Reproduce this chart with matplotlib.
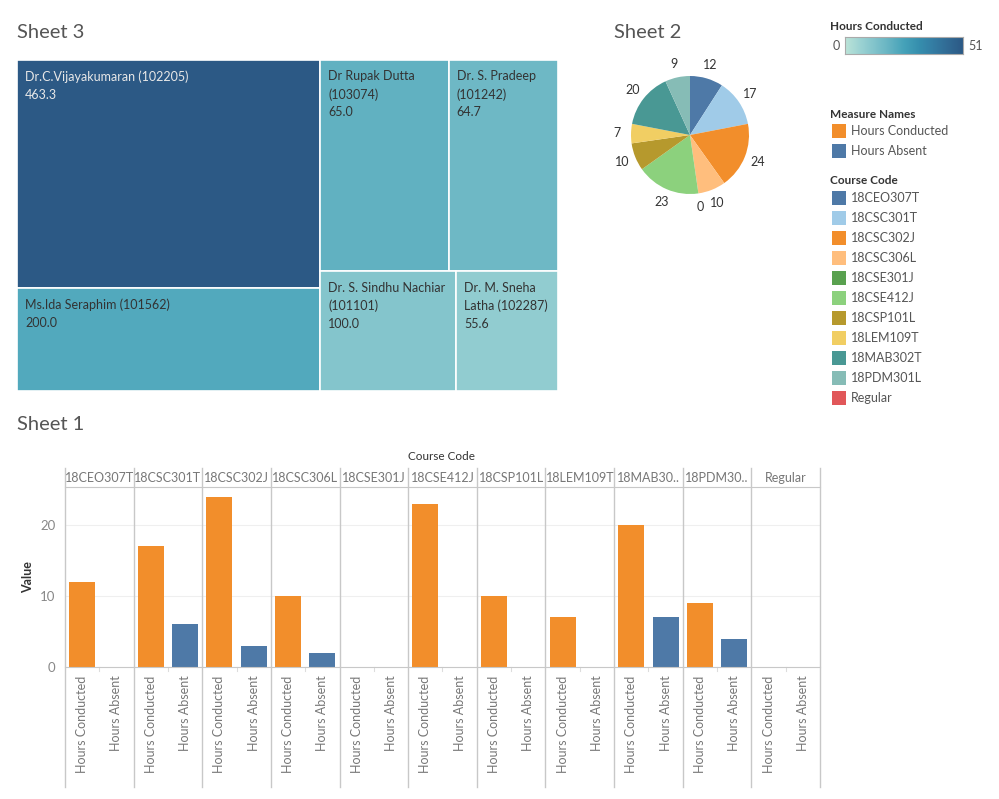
import textwrap
import numpy as np
import matplotlib
matplotlib.use("Agg")
import matplotlib.pyplot as plt
from matplotlib.colors import LinearSegmentedColormap, Normalize, to_rgb
from matplotlib.patches import Rectangle
import matplotlib.transforms as mtransforms

plt.rcParams["font.family"] = ["Lato", "DejaVu Sans"]

W, H = 999, 799

# data
courses = ["18CEO307T", "18CSC301T", "18CSC302J", "18CSC306L", "18CSE301J", "18CSE412J",
           "18CSP101L", "18LEM109T", "18MAB302T", "18PDM301L", "Regular"]
header_labels = ["18CEO307T", "18CSC301T", "18CSC302J", "18CSC306L", "18CSE301J", "18CSE412J",
                 "18CSP101L", "18LEM109T", "18MAB30..", "18PDM30..", "Regular"]
hours_conducted = [12, 17, 24, 10, 0, 23, 10, 7, 20, 9, 0]
hours_absent = [0, 6, 3, 2, 0, 0, 0, 0, 7, 4, 0]
measures = ["Hours Conducted", "Hours Absent"]

faculty = ["Dr.C.Vijayakumaran (102205)", "Ms.Ida Seraphim (101562)", "Dr Rupak Dutta (103074)",
           "Dr. S. Pradeep (101242)", "Dr. S. Sindhu Nachiar (101101)", "Dr. M. Sneha Latha (102287)"]
faculty_hours = [51, 23, 20, 17, 12, 9]
faculty_score = [463.3, 200.0, 65.0, 64.7, 100.0, 55.6]

course_colors = ["#4e79a7", "#a0cbe8", "#f28e2b", "#ffbe7d", "#59a14f", "#8cd17d",
                 "#b6992d", "#f1ce63", "#499894", "#86bcb6", "#e15759"]
measure_colors = ["#f28e2b", "#4e79a7"]
blue_teal = LinearSegmentedColormap.from_list(
    "blue_teal", ["#bce4d8", "#9dd3d3", "#81c3cb", "#65b3c2", "#45a2b9",
                  "#368fae", "#347ca3", "#316a94", "#2c5985"])


def box(x0, y0, x1, y1):
    # pixel box (top-left origin) -> figure fraction
    return [x0 / W, 1 - y1 / H, (x1 - x0) / W, (y1 - y0) / H]


def strip_layout(values, strips, x0, y0, w, h):
    scale = w * h / sum(values)
    rects = []
    i = 0
    for n in strips:
        group = values[i:i + n]
        area = sum(group) * scale
        if h <= w:
            cw = area / h
            yy = y0
            for v in group:
                ch = v * scale / cw
                rects.append((x0, yy, cw, ch))
                yy += ch
            x0 += cw
            w -= cw
        else:
            rh = area / w
            xx = x0
            for v in group:
                rw = v * scale / rh
                rects.append((xx, y0, rw, rh))
                xx += rw
            y0 += rh
            h -= rh
        i += n
    return rects


fig = plt.figure(figsize=(W / 100, H / 100), dpi=100)
fig.patch.set_facecolor("white")

title_kw = dict(fontsize=14.5, color="#555555")
fig.text(17 / W, 1 - 33 / H, "Sheet 3", va="center", **title_kw)
fig.text(614 / W, 1 - 33 / H, "Sheet 2", va="center", **title_kw)
fig.text(17 / W, 1 - 425 / H, "Sheet 1", va="center", **title_kw)

# ---- treemap (Sheet 3)
tx0, ty0, tx1, ty1 = 17, 60, 558, 391
ax_t = fig.add_axes(box(tx0, ty0, tx1, ty1))
ax_t.set_xlim(0, tx1 - tx0)
ax_t.set_ylim(ty1 - ty0, 0)
ax_t.axis("off")
norm = Normalize(0, 51)
rects = strip_layout(faculty_hours, [2, 2, 1, 1], 0, 0, tx1 - tx0, ty1 - ty0)
for (x, y, w, h), name, hrs, score in zip(rects, faculty, faculty_hours, faculty_score):
    col = blue_teal(norm(hrs))
    ax_t.add_patch(Rectangle((x, y), w, h, facecolor=col, edgecolor="white", linewidth=1.2))
    r, g, b = to_rgb(col)
    txt_col = "#e8e8e8" if (0.3 * r + 0.59 * g + 0.11 * b) < 0.45 else "#333333"
    wrap = max(8, int((w - 16) / 5.6))
    label = "\n".join(textwrap.wrap(name, wrap)) + "\n" + f"{score:.1f}"
    ax_t.text(x + 8, y + 10.5, label, ha="left", va="top", fontsize=9, color=txt_col, linespacing=1.55)

# ---- pie (Sheet 2)
ax_p = fig.add_axes(box(590, 35, 790, 235))
pie_vals = hours_conducted[:-1]
wedges, _ = ax_p.pie(pie_vals, colors=course_colors[:-1], startangle=90, counterclock=False,
                     radius=59, center=(0, 0), frame=True, wedgeprops=dict(linewidth=0))
ax_p.set_xlim(-100, 100)
ax_p.set_ylim(-100, 100)
ax_p.axis("off")
for wd, v in zip(wedges, pie_vals):
    ang = np.deg2rad((wd.theta1 + wd.theta2) / 2)
    ax_p.text(73 * np.cos(ang), 73 * np.sin(ang), str(v), ha="center", va="center",
              fontsize=9, color="#333333")

# ---- legends
ax_l = fig.add_axes([0, 0, 1, 1], zorder=-1)
ax_l.set_xlim(0, W)
ax_l.set_ylim(H, 0)
ax_l.axis("off")
ax_l.text(830, 26, "Hours Conducted", fontsize=8.5, color="#333333", fontweight="bold", va="center")
ax_cb = fig.add_axes(box(845, 37, 963, 54))
ax_cb.imshow(np.linspace(0, 51, 256)[None, :], aspect="auto", cmap=blue_teal, norm=norm)
ax_cb.set_xticks([])
ax_cb.set_yticks([])
for s in ax_cb.spines.values():
    s.set_color("#aaaaaa")
ax_l.text(840, 45.5, "0", fontsize=9, color="#555555", ha="right", va="center")
ax_l.text(968, 45.5, "51", fontsize=9, color="#555555", ha="left", va="center")

ax_l.text(830, 114, "Measure Names", fontsize=8.5, color="#333333", fontweight="bold", va="center")
for k, (m, c) in enumerate(zip(measures, measure_colors)):
    yc = 131 + 20 * k
    ax_l.add_patch(Rectangle((832, yc - 7), 14, 14, facecolor=c, edgecolor="none"))
    ax_l.text(851, yc, m, fontsize=9, color="#555555", va="center")

ax_l.text(830, 181, "Course Code", fontsize=8.5, color="#333333", fontweight="bold", va="center")
for k, (cc, c) in enumerate(zip(courses, course_colors)):
    yc = 198 + 20 * k
    ax_l.add_patch(Rectangle((832, yc - 7), 14, 14, facecolor=c, edgecolor="none"))
    ax_l.text(851, yc, cc, fontsize=9, color="#555555", va="center")

# ---- bar chart (Sheet 1)
bx0, by0, bx1, by1 = 65, 487, 820, 667
ax_b = fig.add_axes(box(bx0, by0, bx1, by1))
n = len(courses)
xc = np.arange(n) * 2
ax_b.bar(xc, hours_conducted, width=0.76, color=measure_colors[0])
ax_b.bar(xc + 1, hours_absent, width=0.76, color=measure_colors[1])
ax_b.set_xlim(-0.5, 2 * n - 0.5)
ax_b.set_ylim(0, 25.35)
ax_b.set_yticks([0, 10, 20])
ax_b.yaxis.grid(True, color="#efefef", linewidth=0.8)
ax_b.set_axisbelow(True)
ax_b.tick_params(axis="y", length=0, labelsize=9.5, labelcolor="#888888", pad=7)
ax_b.set_xticks(np.arange(2 * n))
ax_b.set_xticklabels(measures * n, rotation=90, fontsize=9, color="#777777")
ax_b.tick_params(axis="x", length=0, pad=6)
for s in ["left", "right"]:
    ax_b.spines[s].set_visible(False)
ax_b.spines["bottom"].set_color("#c8c8c8")
ax_b.spines["top"].set_color("#c8c8c8")

hpx = by1 - by0
trans = mtransforms.blended_transform_factory(ax_b.transData, ax_b.transAxes)
y_top = 1 + (by0 - 468) / hpx
y_bot = -(787 - by1) / hpx
for b in np.arange(-0.5, 2 * n, 2):
    ax_b.plot([b, b], [y_bot, y_top], transform=trans, color="#c8c8c8", linewidth=1, clip_on=False)
for t in xc + 0.5:
    ax_b.plot([t, t], [0, -4 / hpx], transform=trans, color="#dddddd", linewidth=0.8, clip_on=False)
for i, lab in enumerate(header_labels):
    ax_b.text(2 * i + 0.5, 1 + (by0 - 478) / hpx, lab, transform=trans, ha="center", va="center",
              fontsize=9, color="#777777", clip_on=False)

fig.text(441 / W, 1 - 457 / H, "Course Code", ha="center", va="center", fontsize=8.5, color="#333333")
fig.text(28 / W, 1 - 577 / H, "Value", ha="center", va="center", rotation=90, fontsize=9,
         color="#333333", fontweight="bold")

fig.savefig("out.png", dpi=100, facecolor="white")
